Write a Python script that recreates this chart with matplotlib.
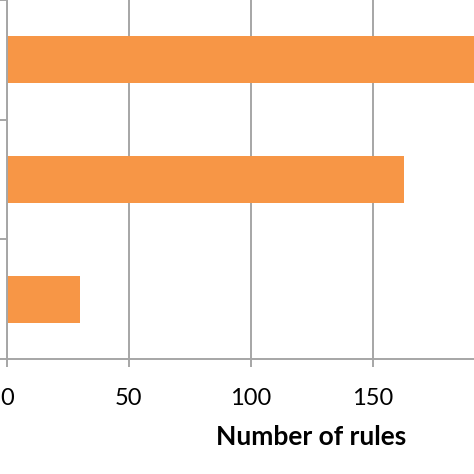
import numpy as np
import matplotlib
matplotlib.use("Agg")
import matplotlib.pyplot as plt

# Data (chart is cropped: category labels are cut off, top bar runs past the edge)
categories = ["C", "B", "A"]          # bottom to top
rule_counts = [30, 163, 200]
x_ticks = [0, 50, 100, 150]

bar_color = "#F79646"
grid_color = "#A6A6A6"

plt.rcParams["font.family"] = ["Lato", "DejaVu Sans"]

fig = plt.figure(figsize=(4.74, 4.74), dpi=100)
# axes run a little past the right edge of the figure, as in the cropped original
ax = fig.add_axes([7 / 474, 115 / 474, 472 / 474, 359 / 474])

y = np.arange(len(categories))
ax.barh(y, rule_counts, height=0.39, color=bar_color, zorder=3)

ax.set_xlim(0, 193.7)
ax.set_ylim(-0.5, 2.5)
ax.set_xticks(x_ticks)
ax.set_xticklabels([str(t) for t in x_ticks])
ax.set_yticks([-0.5, 0.5, 1.5, 2.5])
ax.set_yticklabels([])

ax.grid(axis="x", color=grid_color, linewidth=1.4, zorder=0)
ax.spines["top"].set_visible(False)
ax.spines["right"].set_visible(False)
for side in ["left", "bottom"]:
    ax.spines[side].set_color(grid_color)
    ax.spines[side].set_linewidth(1.4)
    ax.spines[side].set_zorder(4)

ax.tick_params(axis="x", length=6, width=1.4, color=grid_color, pad=15,
               labelsize=17, labelcolor="black")
ax.tick_params(axis="y", length=5, width=1.4, color=grid_color)

fig.text(311 / 474, 1 - 437 / 474, "Number of rules", ha="center", va="center",
         fontsize=19, fontweight="bold")

fig.savefig("out.png", dpi=100)
